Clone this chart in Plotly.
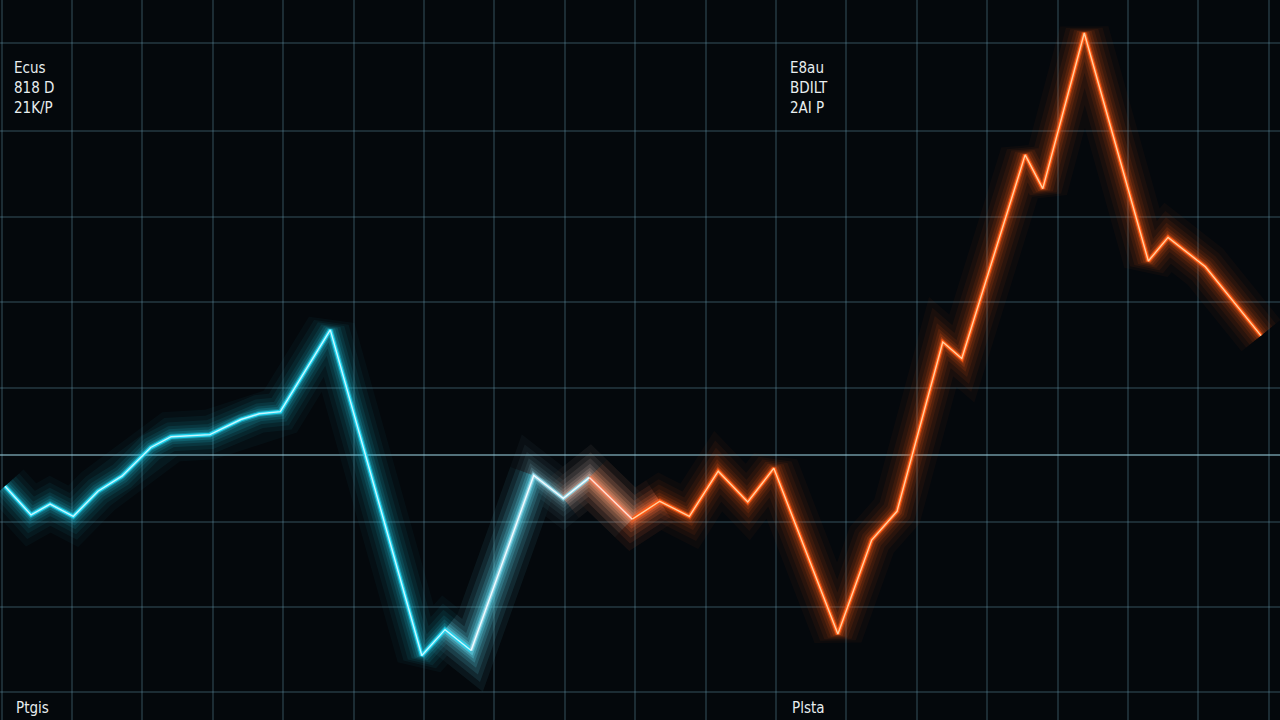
import plotly.graph_objects as go

# ---- data ----
x_vals = [0.05, 0.42, 0.69, 1.02, 1.37, 1.71, 2.12, 2.41, 2.96, 3.40, 3.66, 3.96,
          4.67, 5.97, 6.30, 6.67, 7.56, 7.98, 8.35, 8.96, 9.35, 9.77, 10.18, 10.60,
          10.97, 11.88, 12.36, 12.72, 13.37, 13.64, 14.54, 14.79, 15.38, 16.29,
          16.57, 17.10, 17.89]
y_vals = [-4.3, -8.3, -6.8, -8.5, -5.0, -2.9, 1.1, 2.6, 2.9, 5.0, 5.8, 6.1,
          17.5, -27.9, -24.3, -27.2, -2.8, -6.0, -3.1, -8.9, -6.4, -8.5, -2.2, -6.5,
          -1.8, -24.9, -11.8, -7.8, 15.8, 13.5, 41.9, 37.2, 58.9, 27.1,
          30.4, 26.3, 16.7]

# segments of the line: (start index, end index, colour, core colour)
segments = [
    (0, 15, "#22d3ee", "#c8f8ff"),
    (15, 18, "#8fd3e2", "#f2fbff"),
    (18, 19, "#ee7e5c", "#ffe2d6"),
    (19, 36, "#ff5a14", "#ffd0a0"),
]

y_grid = [-33.0, -21.2, -9.3, 9.4, 21.4, 33.3, 45.3, 57.5]

labels_top_left = ["Ecus", "818 D", "21K/P"]
labels_top_mid = ["E8au", "BDILT", "2AI P"]
label_bottom_left = "Ptgis"
label_bottom_mid = "Plsta"

fig = go.Figure()
n = len(x_vals)

glow = [(50, 0.035), (38, 0.05), (29, 0.065), (21, 0.09), (15, 0.12), (10, 0.18), (6, 0.32)]
for w, op in glow:
    for s, e, col, core in segments:
        a, b = max(0, s - 1), min(n - 1, e + 1)
        fig.add_trace(go.Scatter(x=x_vals[a:b + 1], y=y_vals[a:b + 1], mode="lines",
                                 opacity=op, line=dict(color=col, width=w),
                                 hoverinfo="skip", showlegend=False))
for s, e, col, core in segments:
    fig.add_trace(go.Scatter(x=x_vals[s:e + 1], y=y_vals[s:e + 1], mode="lines",
                             line=dict(color=col, width=3.8),
                             hoverinfo="skip", showlegend=False))
for s, e, col, core in segments:
    fig.add_trace(go.Scatter(x=x_vals[s:e + 1], y=y_vals[s:e + 1], mode="lines",
                             line=dict(color=core, width=1.4),
                             hoverinfo="skip", showlegend=False))

font = dict(family="Liberation Sans Narrow, DejaVu Sans Condensed, sans-serif",
            size=15, color="#e8eef0")

def add_block(lines, px, py0, step):
    for i, t in enumerate(lines):
        fig.add_annotation(text=t, xref="paper", yref="paper",
                           x=px / 1280, y=1 - (py0 + i * step) / 720,
                           xanchor="left", yanchor="middle", showarrow=False,
                           font=font)

add_block(labels_top_left, 12, 68, 20)
add_block(labels_top_mid, 788, 68, 20)
add_block([label_bottom_left], 14, 708, 20)
add_block([label_bottom_mid], 790, 708, 20)

fig.update_layout(
    width=1280, height=720,
    margin=dict(l=0, r=0, t=0, b=0),
    paper_bgcolor="#04080c", plot_bgcolor="#04080c",
    xaxis=dict(range=[-0.0213, 18.16], dtick=1, tick0=0,
               showgrid=True, gridcolor="rgba(100,150,170,0.26)", gridwidth=1.5,
               zeroline=False, showticklabels=False, showline=False),
    yaxis=dict(range=[-36.9, 63.5], tickvals=y_grid,
               showgrid=True, gridcolor="rgba(100,150,170,0.26)", gridwidth=1.5,
               zeroline=True, zerolinecolor="rgba(150,200,215,0.55)", zerolinewidth=2.2,
               showticklabels=False, showline=False),
)

fig.write_html("out.html", config={"displayModeBar": False},
               post_script="document.body.style.margin='0';")
